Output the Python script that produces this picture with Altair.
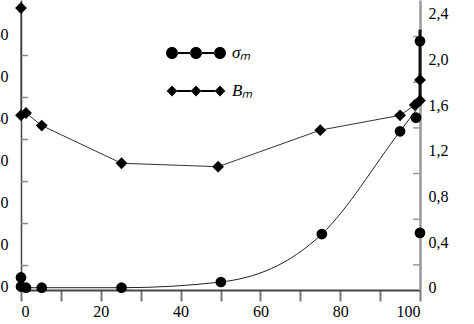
import altair as alt
import pandas as pd

# ---- data (right-axis units for both series) ----
b_x = [0, 0, 1.25, 5.2, 25.2, 49.4, 75, 95, 98.7, 100, 100]
b_y = [2.45, 1.51, 1.53, 1.42, 1.09, 1.06, 1.38, 1.51, 1.60, 1.64, 1.82]

s_x = [0, 0, 1.25, 5.2, 25.2, 50.1, 75.4, 95, 99, 100, 100]
s_y = [0.09, 0.01, 0.0, 0.0, 0.0, 0.05, 0.47, 1.37, 1.49, 0.48, 2.16]

curve_x = [0, 1.25, 5.2, 25.2, 50.1, 75.4, 95, 100]
curve_y = [0.01, 0.0, 0.0, 0.0, 0.05, 0.47, 1.37, 1.60]

vert_x = [100]
vert_y = [1.60]
vert_y2 = [2.26]

series = ["σₘ", "Bₘ"]

x_ticks = [0, 10, 20, 30, 40, 50, 60, 70, 80, 90, 100]
left_labels = [0, 10, 20, 30, 40, 50, 60]
left_ticks = [5, 15, 25, 35, 45, 55]
right_labels = [0, 0.4, 0.8, 1.2, 1.6, 2.0, 2.4]
right_ticks = [0.2, 0.6, 1.0, 1.4, 1.8, 2.2]

R_DOMAIN = [-0.02, 2.52]
L_DOMAIN = [-0.815, 68.21]
FONT = "'Liberation Serif', 'Times New Roman', serif"

b_df = pd.DataFrame({"x": b_x, "y": b_y, "i": list(range(len(b_x)))})
s_df = pd.DataFrame({"x": s_x, "y": s_y})
c_df = pd.DataFrame({"x": curve_x, "y": curve_y})
v_df = pd.DataFrame({"x": vert_x, "y": vert_y, "y2": vert_y2})
lt_df = pd.DataFrame({"v": left_ticks})
rt_df = pd.DataFrame({"v": right_ticks})
leg_df = pd.DataFrame({"series": series, "x": [s_x[0], b_x[0]], "y": [s_y[0], b_y[0]]})

x_axis = alt.Axis(values=x_ticks, labelExpr="datum.value % 20 == 0 ? datum.label : ''",
                  tickSize=11, tickColor="#777", tickWidth=2, domainColor="#444",
                  domainWidth=2, labelPadding=2, title=None, grid=False,
                  labelFont=FONT, labelFontSize=16, labelColor="black")
r_axis = alt.Axis(orient="right", values=right_labels, ticks=False, tickSize=0,
                  labelPadding=8, domainColor="#999", domainWidth=2.5, grid=False, title=None,
                  labelExpr="datum.value == 0 ? '0' : replace(format(datum.value, '.1f'), '.', ',')",
                  labelFont=FONT, labelFontSize=16, labelColor="black")
l_axis = alt.Axis(orient="left", values=left_labels, ticks=False, tickSize=0,
                  labelPadding=13, domainColor="#444", domainWidth=1.5, grid=False, title=None,
                  labelFont=FONT, labelFontSize=16, labelColor="black")


def X(f="x"):
    return alt.X(f"{f}:Q", scale=alt.Scale(domain=[0, 100], nice=False, zero=False), axis=x_axis)


def Y(f="y"):
    return alt.Y(f"{f}:Q", scale=alt.Scale(domain=R_DOMAIN, nice=False, zero=False), axis=r_axis)


left_layer = alt.Chart(lt_df).mark_rule(color="#888", strokeWidth=1.5).encode(
    x=alt.value(0), x2=alt.value(7),
    y=alt.Y("v:Q", scale=alt.Scale(domain=L_DOMAIN, nice=False, zero=False), axis=l_axis),
)

right_ticks_layer = alt.Chart(rt_df).mark_rule(color="#999", strokeWidth=1.5).encode(
    x=alt.value(392), x2=alt.value(399), y=Y("v"),
)

b_line = alt.Chart(b_df).mark_line(color="#333", strokeWidth=1).encode(
    x=X(), y=Y(), order=alt.Order("i:Q"))
c_line = alt.Chart(c_df).mark_line(color="#222", strokeWidth=1, interpolate="monotone").encode(
    x=X(), y=Y())
v_rule = alt.Chart(v_df).mark_rule(color="#111", strokeWidth=3).encode(
    x=X(), y=Y(), y2="y2:Q")
b_pts = alt.Chart(b_df).mark_point(shape="diamond", filled=True, color="black", size=140, opacity=1).encode(
    x=X(), y=Y())
s_pts = alt.Chart(s_df).mark_circle(color="black", size=115, opacity=1).encode(
    x=X(), y=Y())

circ = ("M-1,0 A0.2,0.2 0 1,0 -0.6,0 A0.2,0.2 0 1,0 -1,0 Z "
        "M-0.2,0 A0.2,0.2 0 1,0 0.2,0 A0.2,0.2 0 1,0 -0.2,0 Z "
        "M0.6,0 A0.2,0.2 0 1,0 1,0 A0.2,0.2 0 1,0 0.6,0 Z "
        "M-0.61,-0.03 H-0.19 V0.03 H-0.61 Z M0.19,-0.03 H0.61 V0.03 H0.19 Z")
diam = ("M-0.98,0 L-0.8,-0.18 L-0.62,0 L-0.8,0.18 Z "
        "M-0.18,0 L0,-0.18 L0.18,0 L0,0.18 Z "
        "M0.62,0 L0.8,-0.18 L0.98,0 L0.8,0.18 Z "
        "M-0.63,-0.03 H-0.17 V0.03 H-0.63 Z M0.17,-0.03 H0.63 V0.03 H0.17 Z")

legend_layer = alt.Chart(leg_df).mark_point(filled=True, color="black", opacity=0).encode(
    x=X(), y=Y(),
    shape=alt.Shape("series:N", scale=alt.Scale(domain=series, range=[circ, diam]),
                    legend=alt.Legend(title=None, orient="none", legendX=145, legendY=23,
                                      symbolSize=3600, rowPadding=-30, labelOffset=6,
                                      labelFont=FONT, labelFontStyle="italic", labelFontSize=17,
                                      symbolStrokeWidth=0, symbolFillColor="black",
                                      symbolOpacity=1, padding=0, labelColor="black")),
)

inner = alt.layer(right_ticks_layer, b_line, c_line, v_rule, b_pts, s_pts, legend_layer)

chart = alt.layer(left_layer, inner).resolve_scale(y="independent").properties(
    width=399, height=290,
    autosize=alt.AutoSizeParams(type="none"),
    padding={"left": 21, "top": 0, "right": 54, "bottom": 34},
    background="white",
).configure_view(stroke=None)

chart.save("out.html", embed_options={"renderer": "svg", "actions": False})
